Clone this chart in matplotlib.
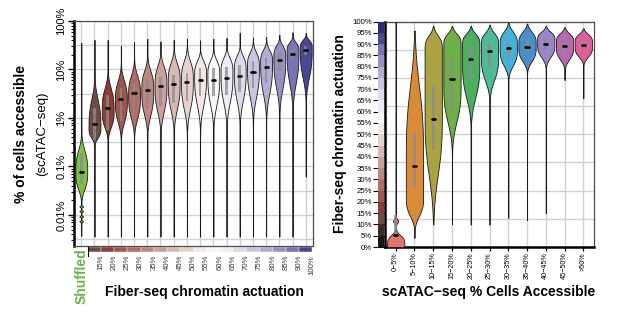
import numpy as np
import matplotlib.pyplot as plt
from matplotlib.patches import Rectangle
from matplotlib.ticker import NullFormatter, LogLocator

plt.rcParams['font.family'] = ['Liberation Sans', 'DejaVu Sans']

# ---------------- left panel: % cells accessible per Fiber-seq actuation bin (values in %)
bin_labels = ['15%', '20%', '25%', '30%', '35%', '40%', '45%', '50%', '55%',
              '60%', '65%', '70%', '75%', '80%', '85%', '90%', '100%']
bin_colors = ['#6d4c48', '#8b3d36', '#a0564d', '#ae6f67', '#bc8880', '#c9a09a',
              '#d7b9b3', '#e5d2cd', '#f1e8e6', '#f8f6f7', '#edebf3', '#dddaea',
              '#c9c5e0', '#b2add3', '#9791c3', '#7a74b2', '#4a4794']
shuffled_color = '#7dc242'

L_med = [0.077, 0.76, 1.63, 2.42, 3.2, 3.8, 4.6, 5.1, 5.4, 6.1, 6.2, 6.7, 7.3, 8.9, 11.3, 15.9, 21, 25.7]
L_q1 = [0.043, 0.35, 0.57, 0.85, 1.17, 1.5, 1.8, 2.0, 2.2, 2.8, 2.8, 3.0, 3.5, 4.15, 5.3, 9.1, 16, 20]
L_q3 = [0.19, 1.6, 3.0, 4.15, 5.3, 6.35, 7.0, 7.8, 8.4, 10.7, 10.7, 11.5, 12.6, 14.7, 17, 22, 26.5, 31]
L_min = [0.0037, 0.0036, 0.0036, 0.0036, 0.0036, 0.0036, 0.0036, 0.0036, 0.0036,
         0.0036, 0.0036, 0.0036, 0.0036, 0.0036, 0.0036, 0.0036, 0.0036, 0.062]
L_max = [35, 41, 41, 31, 37, 43, 38, 41, 43, 40, 43, 45, 57, 46, 47, 52, 59, 57]
# violin body: lower tip, peak, upper tip
L_tip_lo = [0.019, 0.28, 0.36, 0.39, 0.45, 0.50, 0.52, 0.57, 0.57, 0.63, 0.66, 0.73, 0.80, 0.92, 1.06, 1.35, 1.63, 2.4]
L_peak = [0.078, 0.62, 1.45, 2.3, 3.0, 3.8, 4.9, 5.7, 6.2, 8.0, 8.0, 9.0, 10.0, 12.0, 14.7, 19, 25, 29]
L_tip_hi = [0.45, 6.5, 8.5, 11.5, 14.5, 18, 22, 25.7, 28, 24, 25, 28, 30, 35.7, 38, 45, 48, 52]
L_bumps = {0: [0.015, 0.012, 0.0093, 0.0074]}

# ---------------- right panel: Fiber-seq actuation per scATAC-seq bin (values in %)
R_labels = ['0\u22125%', '5\u221210%', '10\u221215%', '15\u221220%', '20\u221225%', '25\u221230%',
            '30\u221235%', '35\u221240%', '40\u221245%', '45\u221250%', '>50%']
R_colors = ['#e8726a', '#d98b3a', '#aaa243', '#6db046', '#4caf5f', '#4fb99b',
            '#45b1d6', '#4a8fcb', '#9b87c6', '#b56aae', '#df5f9b']
R_med = [5.2, 36, 56.6, 74.3, 83.5, 86.9, 88.1, 88.9, 90.2, 89.2, 89.6]
R_q1 = [2, 26, 43, 60.5, 73.8, 79.7, 84, 86.2, 87.7, 86.2, 87]
R_q3 = [14, 51, 71.7, 84, 88.8, 90.5, 91, 91.4, 92.6, 91.4, 92]
R_min = [0, 4, 10, 10, 10, 10, 13, 12, 15, 74, 66]
R_max = [100, 96, 98, 98, 98, 98.5, 99.5, 99, 98, 97.5, 97]
R_tip_lo = [0, 8, 12, 44, 55, 66, 75, 78, 80, 79, 81]
R_peak_lo = [1.5, 22, 60, 72, 82, 85, 88, 88.5, 90, 89, 89]
R_peak_hi = [1.5, 38, 88, 90, 90, 90, 90, 90.5, 92, 91, 91]
R_tip_hi = [8, 95, 98, 98, 98, 98.5, 99.5, 99, 98, 97.5, 97]
R_bumps = {0: [11.5]}
strip_edges = list(range(0, 101, 5))
strip_colors = ['#151515', '#3d2b22'] + bin_colors[:16] + ['#4a4794', '#2c2b76']


def draw_violin(ax, x, lo, hi, tlo, plo, phi, thi, bumps, bump_sd, color, width, logy, k=3):
    f = np.log10 if logy else (lambda v: np.asarray(v, dtype=float))
    y = np.linspace(f(lo), f(hi), 900)
    c = np.log(25) ** (1 / k)
    d = np.ones_like(y)
    up = y > f(phi)
    d[up] = np.exp(-((y[up] - f(phi)) / ((f(thi) - f(phi)) / c)) ** k)
    if tlo > lo:
        dn = y < f(plo)
        d[dn] = np.exp(-((f(plo) - y[dn]) / ((f(plo) - f(tlo)) / c)) ** k)
    for b in bumps:
        d = d + 0.3 * np.exp(-((y - f(b)) / bump_sd) ** 2)
    half = width / 2 * d / d.max()
    yy = 10 ** y if logy else y
    ax.fill_betweenx(yy, x - half, x + half, facecolor=color, edgecolor='#1a1a1a',
                     lw=0.6, zorder=3)


def draw_box(ax, x, q1, med, q3, bw, mw):
    ax.add_patch(Rectangle((x - bw / 2, q1), bw, q3 - q1, facecolor='#8c8c8c',
                           alpha=0.75, lw=0, zorder=4))
    ax.plot([x - mw, x + mw], [med, med], color='black', lw=1.9,
            solid_capstyle='round', zorder=5)


fig = plt.figure(figsize=(6.35, 3.24), dpi=100)
axL = fig.add_axes([74 / 635, 1 - 246 / 324, 239 / 635, 225 / 324])
axR = fig.add_axes([385 / 635, 1 - 247 / 324, 209 / 635, 225.5 / 324])
grid_kw = dict(color='#d2d2d2', lw=1.0, zorder=0.5)

# ---- left
axL.set_yscale('log')
axL.set_ylim(10 ** -2.64, 100)
axL.set_xlim(-0.55, 17.55)
yt = [0.01, 0.1, 1, 10, 100]
for v in yt:
    axL.axhline(v, **grid_kw)
    axL.axhline(v / np.sqrt(10), **grid_kw)
for i in range(18):
    axL.axvline(i, **grid_kw)

left_colors = [shuffled_color] + bin_colors
for i in range(18):
    draw_violin(axL, i, L_min[i], L_max[i], L_tip_lo[i], L_peak[i], L_peak[i], L_tip_hi[i],
                L_bumps.get(i, []), 0.02, left_colors[i], 0.9, True)
    draw_box(axL, i, L_q1[i], L_med[i], L_q3[i], 0.2, 0.12)

axL.set_yticks(yt)
axL.set_yticklabels(['0.01%', '0.1%', '1%', '10%', '100%'], rotation=90, va='center', fontsize=8)
axL.yaxis.set_minor_locator(LogLocator(base=10, subs=np.arange(2, 10)))
axL.yaxis.set_minor_formatter(NullFormatter())
axL.tick_params(axis='y', which='major', length=4, width=1, pad=1.5)
axL.tick_params(axis='y', which='minor', length=2.2, width=0.8)
axL.set_xticks([])
for s in ['top', 'right', 'bottom']:
    axL.spines[s].set_linewidth(0.9)
    axL.spines[s].set_color('#4d4d4d')
axL.spines['left'].set_linewidth(1.8)

tL = axL.get_xaxis_transform()
for i, col in enumerate(bin_colors):
    axL.add_patch(Rectangle((i + 0.5, -0.027), 1, 0.022, transform=tL, clip_on=False,
                            facecolor=col, edgecolor='white', lw=0.3))
    axL.text(i + 1.5, -0.04, bin_labels[i], transform=tL, rotation=90, ha='center',
             va='top', fontsize=5.6, color='#333333')
axL.plot([0.5, 0.5], [-0.005, -0.045], transform=tL, color='black', lw=0.8, clip_on=False)
axL.text(0, -0.008, 'Shuffled', transform=tL, rotation=90, ha='center', va='top',
         fontsize=10, fontweight='bold', color='#6ab04c')

# ---- right
axR.set_ylim(0, 100)
axR.set_xlim(-0.57, 10.57)
for v in np.arange(0, 101, 12.5):
    axR.axhline(v, **grid_kw)
for i in range(11):
    axR.axvline(i, **grid_kw)
for i in range(11):
    draw_violin(axR, i, R_min[i], R_max[i], R_tip_lo[i], R_peak_lo[i], R_peak_hi[i], R_tip_hi[i],
                R_bumps.get(i, []), 1.2, R_colors[i], 0.92, False)
    draw_box(axR, i, R_q1[i], R_med[i], R_q3[i], 0.16, 0.09)

axR.set_yticks(strip_edges)
axR.set_yticklabels([f'{v}%' for v in strip_edges], fontsize=5.6)
axR.tick_params(axis='y', length=8.6, width=0.8, pad=0.8)
axR.set_xticks(range(11))
axR.set_xticklabels(R_labels, rotation=90, fontsize=5.2)
axR.tick_params(axis='x', length=3, width=0.9, pad=1)
for s in ['top', 'right']:
    axR.spines[s].set_linewidth(0.9)
    axR.spines[s].set_color('#4d4d4d')
axR.spines['left'].set_linewidth(1.8)
axR.spines['bottom'].set_linewidth(1.8)

tR = axR.get_yaxis_transform()
for i, col in enumerate(strip_colors):
    axR.add_patch(Rectangle((-0.034, strip_edges[i]), 0.029, strip_edges[i + 1] - strip_edges[i],
                            transform=tR, clip_on=False, facecolor=col, lw=0, zorder=6))

# ---- axis titles
fig.text(21 / 635, 1 - 134 / 324, '% of cells accessible', rotation=90, ha='center',
         va='center', fontsize=10, fontweight='bold')
fig.text(42 / 635, 1 - 134 / 324, '(scATAC\u2212seq)', rotation=90, ha='center',
         va='center', fontsize=9.5)
fig.text(204 / 635, 1 - 291.7 / 324, 'Fiber-seq chromatin actuation', ha='center',
         va='center', fontsize=10, fontweight='bold')
fig.text(340 / 635, 1 - 134 / 324, 'Fiber-seq chromatin actuation', rotation=90,
         ha='center', va='center', fontsize=10, fontweight='bold')
fig.text(489 / 635, 1 - 292 / 324, 'scATAC\u2212seq % Cells Accessible', ha='center',
         va='center', fontsize=10, fontweight='bold')

fig.savefig('out.png', dpi=100)
